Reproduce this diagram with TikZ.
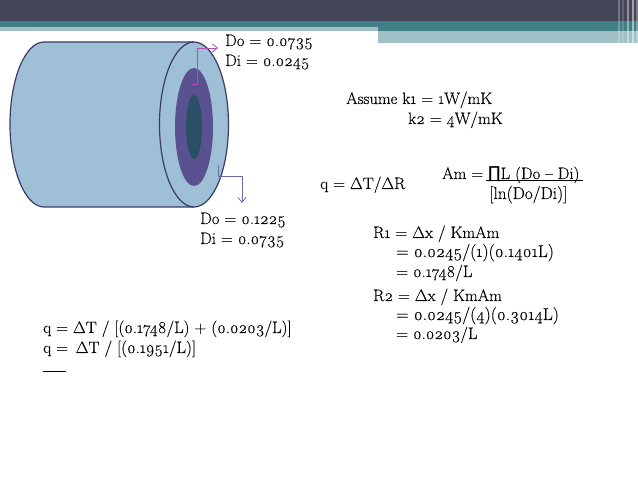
\documentclass[tikz,border=0pt]{standalone}
\usepackage{fontspec}
\setmainfont[Numbers=OldStyle, FakeBold=0.25]{Latin Modern Roman}
\newfontfamily\symfont{DejaVu Sans}
\definecolor{HeadDark}{HTML}{45455A}
\definecolor{HeadTeal}{HTML}{3F7F85}
\definecolor{HeadLight}{HTML}{A0C0C5}
\definecolor{PipeBlue}{HTML}{9FBFD6}
\definecolor{PipeEdge}{HTML}{3A3A68}
\definecolor{PipeMid}{HTML}{5A5290}
\definecolor{PipeCore}{HTML}{2A5068}
\definecolor{LeadPink}{HTML}{B050B0}
\definecolor{LeadBlue}{HTML}{6A6AA8}
\usetikzlibrary{arrows.meta}
\tikzset{
  % Text styles
  eqnlabel/.style={anchor=base west, inner sep=0pt, font=\fontsize{16.5}{20}\selectfont},
  eqnwide/.style={eqnlabel, font=\fontsize{17.2}{20}\selectfont},
  % Arrow styles
  leadpink/.style={-{Straight Barb[length=5pt,width=8pt]}, LeadPink, thick},
  leadblue/.style={-{Straight Barb[length=5pt,width=8pt]}, LeadBlue, thick}
}

\begin{document}
\begin{tikzpicture}[x=1pt, y=-1pt]
  \useasboundingbox (0,0) rectangle (638,478);

  % Header bands
  \fill[HeadLight] (0,27) rectangle (378,31);
  \fill[HeadLight] (378,31) rectangle (638,43);
  \fill[HeadTeal] (0,21) rectangle (378,27);
  \fill[HeadTeal] (378,21) rectangle (638,31);
  \fill[HeadDark] (0,0) rectangle (638,21);
  \foreach \x/\w in {618/25, 622/15, 627/40, 632/50, 636/30} {
    \fill[white, opacity=\w/100] (\x,0) rectangle ++(2,43);
  }

  % Pipe body
  \draw[PipeEdge, line width=1.2pt, fill=PipeBlue] (194,42) -- (44,42)
    arc[start angle=270, end angle=90, x radius=34, y radius=82.5] -- (194,207);
  \draw[PipeEdge, line width=1.2pt, fill=PipeBlue] (194,124.5) ellipse (34.5 and 82.5);
  \fill[PipeMid] (194,127) ellipse (19 and 59);
  \fill[PipeCore] (194,127) ellipse (8 and 32);

  % Leaders
  \coordinate (leadA) at (192,84);
  \coordinate (tipA) at (218,48);
  \coordinate (leadB) at (218,165);
  \coordinate (tipB) at (242,203);
  \draw[leadpink] (leadA) -- (197,84) -- (197,48) -- (tipA);
  \draw[leadblue] (leadB) -- (218,176) -- (242,176) -- (tipB);

  % Labels
  \node[eqnlabel] (outerDo) at (225,46) {Do = 0.0735};
  \node[eqnlabel] (outerDi) at (225,66) {Di = 0.0245};
  \node[eqnlabel] (innerDo) at (200,224) {Do = 0.1225};
  \node[eqnlabel] (innerDi) at (200,244) {Di = 0.0735};

  \node[eqnlabel] (assumeA) at (346,104) {Assume k1 = 1W/mK};
  \node[eqnlabel] (assumeB) at (408,124) {k2 = 4W/mK};

  \node[eqnlabel] (flux) at (320,189) {q = ΔT/ΔR};
  \node[eqnlabel] (areaTop) at (442,179) {Am = {\symfont ∏}L (Do – Di)};
  \node[eqnwide] (areaBot) at (489,199) {[ln(Do/Di)]};
  \draw[black] (486,180.5) -- (583,180.5);

  \node[eqnlabel] (resA) at (373,238) {R1 = Δx / KmAm};
  \node[eqnwide] (resB) at (396,257) {= 0.0245/(1)(0.1401L)};
  \node[eqnlabel] (resC) at (396,277) {= 0.1748/L};
  \node[eqnlabel] (resD) at (373,301) {R2 = Δx / KmAm};
  \node[eqnwide] (resE) at (396,320) {= 0.0245/(4)(0.3014L)};
  \node[eqnlabel] (resF) at (396,339) {= 0.0203/L};

  \node[eqnlabel] (sumA) at (43,333) {q = ΔT / [(0.1748/L) + (0.0203/L)]};
  \node[eqnlabel] (sumB) at (43,353) {q = \,ΔT / [(0.1951/L)]};
  \draw[black] (43,371.5) -- (66,371.5);
\end{tikzpicture}
\end{document}
